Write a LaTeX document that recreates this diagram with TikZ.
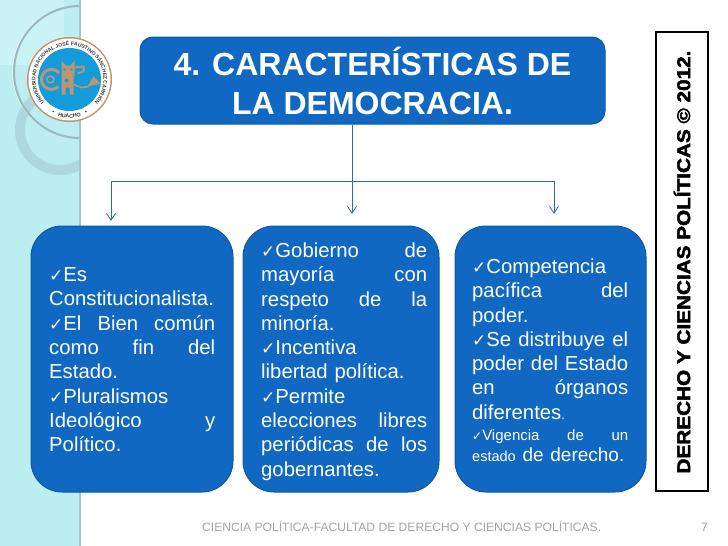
\documentclass[tikz,border=0pt]{standalone}
\usepackage{fontspec}
\setmainfont{Liberation Sans}
\newfontfamily\chkfont{DejaVu Sans}
\newfontfamily\sidefont[BoldFeatures={FakeBold=2.2}]{Liberation Sans}
\usetikzlibrary{arrows.meta,decorations.text}
\definecolor{boxblue}{HTML}{1068C2}
\definecolor{boxedge}{HTML}{0F5A9C}
\definecolor{linkblue}{HTML}{2A6EAE}
\definecolor{panel}{HTML}{BCEDF1}
\definecolor{panelsq}{HTML}{CBF2F4}
\definecolor{stripe}{HTML}{A3C6CA}
\definecolor{ringgrey}{HTML}{9BB8BC}
\definecolor{ringpale}{HTML}{ADD8DF}
\definecolor{sealtan}{HTML}{BC9670}
\definecolor{sealblue}{HTML}{159BD9}
\definecolor{sealink}{HTML}{3A3A3A}
\definecolor{footgrey}{HTML}{A3A3A3}
\newcommand{\ck}{\smash{\chkfont\fontsize{17}{24.3}\selectfont ✓}}
\newcommand{\cks}{\smash{\chkfont\fontsize{12}{24.3}\selectfont ✓}}
\tikzset{
  titlebox/.style={draw=boxedge,line width=1pt,fill=boxblue,rounded corners=13pt,text=white,
    minimum width=465pt,minimum height=87pt,inner sep=0pt,align=center,
    font=\bfseries\fontsize{32}{39}\selectfont},
  itembox/.style={draw=boxedge,line width=1pt,fill=boxblue,rounded corners=31pt,
    minimum height=266pt,inner sep=0pt},
  itemtext/.style={anchor=north west,inner sep=0pt,text=white,align=left,
    font=\fontsize{20.3}{24.3}\selectfont},
  linkline/.style={draw=linkblue,line width=0.8pt},
  linkarrow/.style={linkline,-{Straight Barb[length=7pt,width=9pt,line width=0.8pt]}},
  sealtext/.style={decorate,decoration={text along path,text align=center,text color=sealink,text={#1}}},
}
\begin{document}
\begin{tikzpicture}[x=1pt,y=-1pt]
\useasboundingbox (0,0) rectangle (728,546);
% left panel
\fill[panel] (0,0) rectangle (79,546);
\fill[panelsq] (0,0) rectangle (64,65);
\begin{scope}
  \clip (0,0) rectangle (80,546);
  \draw[ringpale,line width=10pt] (60,130) circle[radius=40];
  \draw[white,opacity=0.6,line width=0.8pt] (78,72) circle[radius=65.5];
  \draw[ringgrey,line width=2pt] (80,72) circle[radius=66];
\end{scope}
\fill[stripe] (79,0) rectangle (81,546);
% seal
\begin{scope}[shift={(69.5,79.5)},y=1pt]
  \fill[sealtan] (0,0) circle[radius=42.5];
  \fill[white] (0,0) circle[radius=41];
  \fill[sealblue] (0,0) circle[radius=31.5];
  \path[sealtext={|\bfseries\fontsize{5.1}{6}\selectfont|UNIVERSIDAD NACIONAL JOSÉ FAUSTINO SÁNCHEZ CARRIÓN}]
     (232:34) arc[start angle=232,end angle=-52,radius=34];
  \path[sealtext={|\bfseries\fontsize{5.4}{6}\selectfont|HUACHO}]
     (250:38.5) arc[start angle=250,end angle=290,radius=38.5];
  \fill[sealink] (243:36) circle[radius=0.9];
  \fill[sealink] (297:36) circle[radius=0.9];
  % figure
  \fill[sealtan] (-8,14) -- (-8,19) -- (-4,14) -- (1,14) -- (5,19) -- (5,14) -- (5,4) -- (4,4) -- (4,-8)
    -- (4,-15) -- (0,-15) -- (0,-8) -- (-4,-8) -- (-4,-15) -- (-8,-15) -- (-8,4) -- cycle;
  \fill[sealblue] (-6,11) rectangle (-4,9) (1,11) rectangle (3,9) (-3,-1) circle[radius=2];
  \draw[sealtan,line width=3pt] (-11,-7) arc[start angle=-45,end angle=-320,radius=10];
  \draw[sealtan,line width=1.5pt] (-19,0) circle[radius=3.5];
  \draw[sealtan,line width=2pt] (5,12) -- (14,13) -- (14,8) -- (8,6);
  \draw[sealtan,line width=1.6pt] (4,-5) -- (12,-8) -- (20,-7);
  \fill[sealtan] (18,-7) -- (24,3) -- (31,-4) -- cycle;
\end{scope}
% title
\node[titlebox] (title) at (372.5,80.5) {4. CARACTERÍSTICAS DE\\LA DEMOCRACIA.};
% boxes
\node[itembox,minimum width=202pt] (b1) at (132,359) {};
\node[itembox,minimum width=196pt] (b2) at (341,359) {};
\node[itembox,minimum width=191pt] (b3) at (550.5,359) {};
\node[itemtext,text width=166pt] (t1) at (49,267.5) {%
\ck Es\\
Constitucionalista.\\
\ck El \hfill Bien \hfill común\\
como \hfill fin \hfill del\\
Estado.\\
\ck Pluralismos\\
Ideológico \hfill y\\
Político.};
\node[itemtext,text width=166pt] (t2) at (261,242.5) {%
\ck Gobierno \hfill de\\
mayoría \hfill con\\
respeto \hfill de \hfill la\\
minoría.\\
\ck Incentiva\\
libertad política.\\
\ck Permite\\
elecciones \hfill libres\\
periódicas \hfill de \hfill los\\
gobernantes.};
\node[itemtext,text width=156pt] (t3) at (472,258.5) {%
\ck Competencia\\
pacífica \hfill del\\
poder.\\
\ck Se \hfill distribuye \hfill el\\
poder \hfill del \hfill Estado\\
en \hfill órganos\\
diferentes{\fontsize{13}{24.3}\selectfont .}\\[-3pt]
{\fontsize{15}{21}\selectfont \cks Vigencia \hfill de \hfill un}\\[-3pt]
\mbox{\fontsize{14.5}{21}\selectfont estado} \mbox{\fontsize{19}{21}\selectfont de derecho.}};
% connectors
\coordinate (hub) at (352,181);
\coordinate (hubL) at (111,181);
\coordinate (hubR) at (554,181);
\coordinate (tipL) at (111,221);
\coordinate (tipM) at (352,214);
\coordinate (tipR) at (554,214);
\draw[linkline] (hubL) -- (hubR);
\draw[linkarrow] (title.south -| hub) -- (tipM);
\draw[linkarrow] (hubL) -- (tipL);
\draw[linkarrow] (hubR) -- (tipR);
% side label
\node[draw=black,line width=2pt,minimum width=52pt,minimum height=459pt,inner sep=0pt] (side) at (682,261.5) {};
\node[rotate=90,inner sep=0pt,anchor=center,font=\sidefont\bfseries\fontsize{18.5}{18}\selectfont] (sidetext) at (682,262) {\scalebox{1.12}[1]{DERECHO Y CIENCIAS POLÍTICAS © 2012.}};
% footer
\node[anchor=base west,inner sep=0pt,text=footgrey,font=\fontsize{12.1}{12}\selectfont] (foot) at (202,531) {CIENCIA POLÍTICA-FACULTAD DE DERECHO Y CIENCIAS POLÍTICAS.};
\node[anchor=base east,inner sep=0pt,text=footgrey,font=\fontsize{12.1}{12}\selectfont] (num) at (708,531) {7};
\end{tikzpicture}
\end{document}
